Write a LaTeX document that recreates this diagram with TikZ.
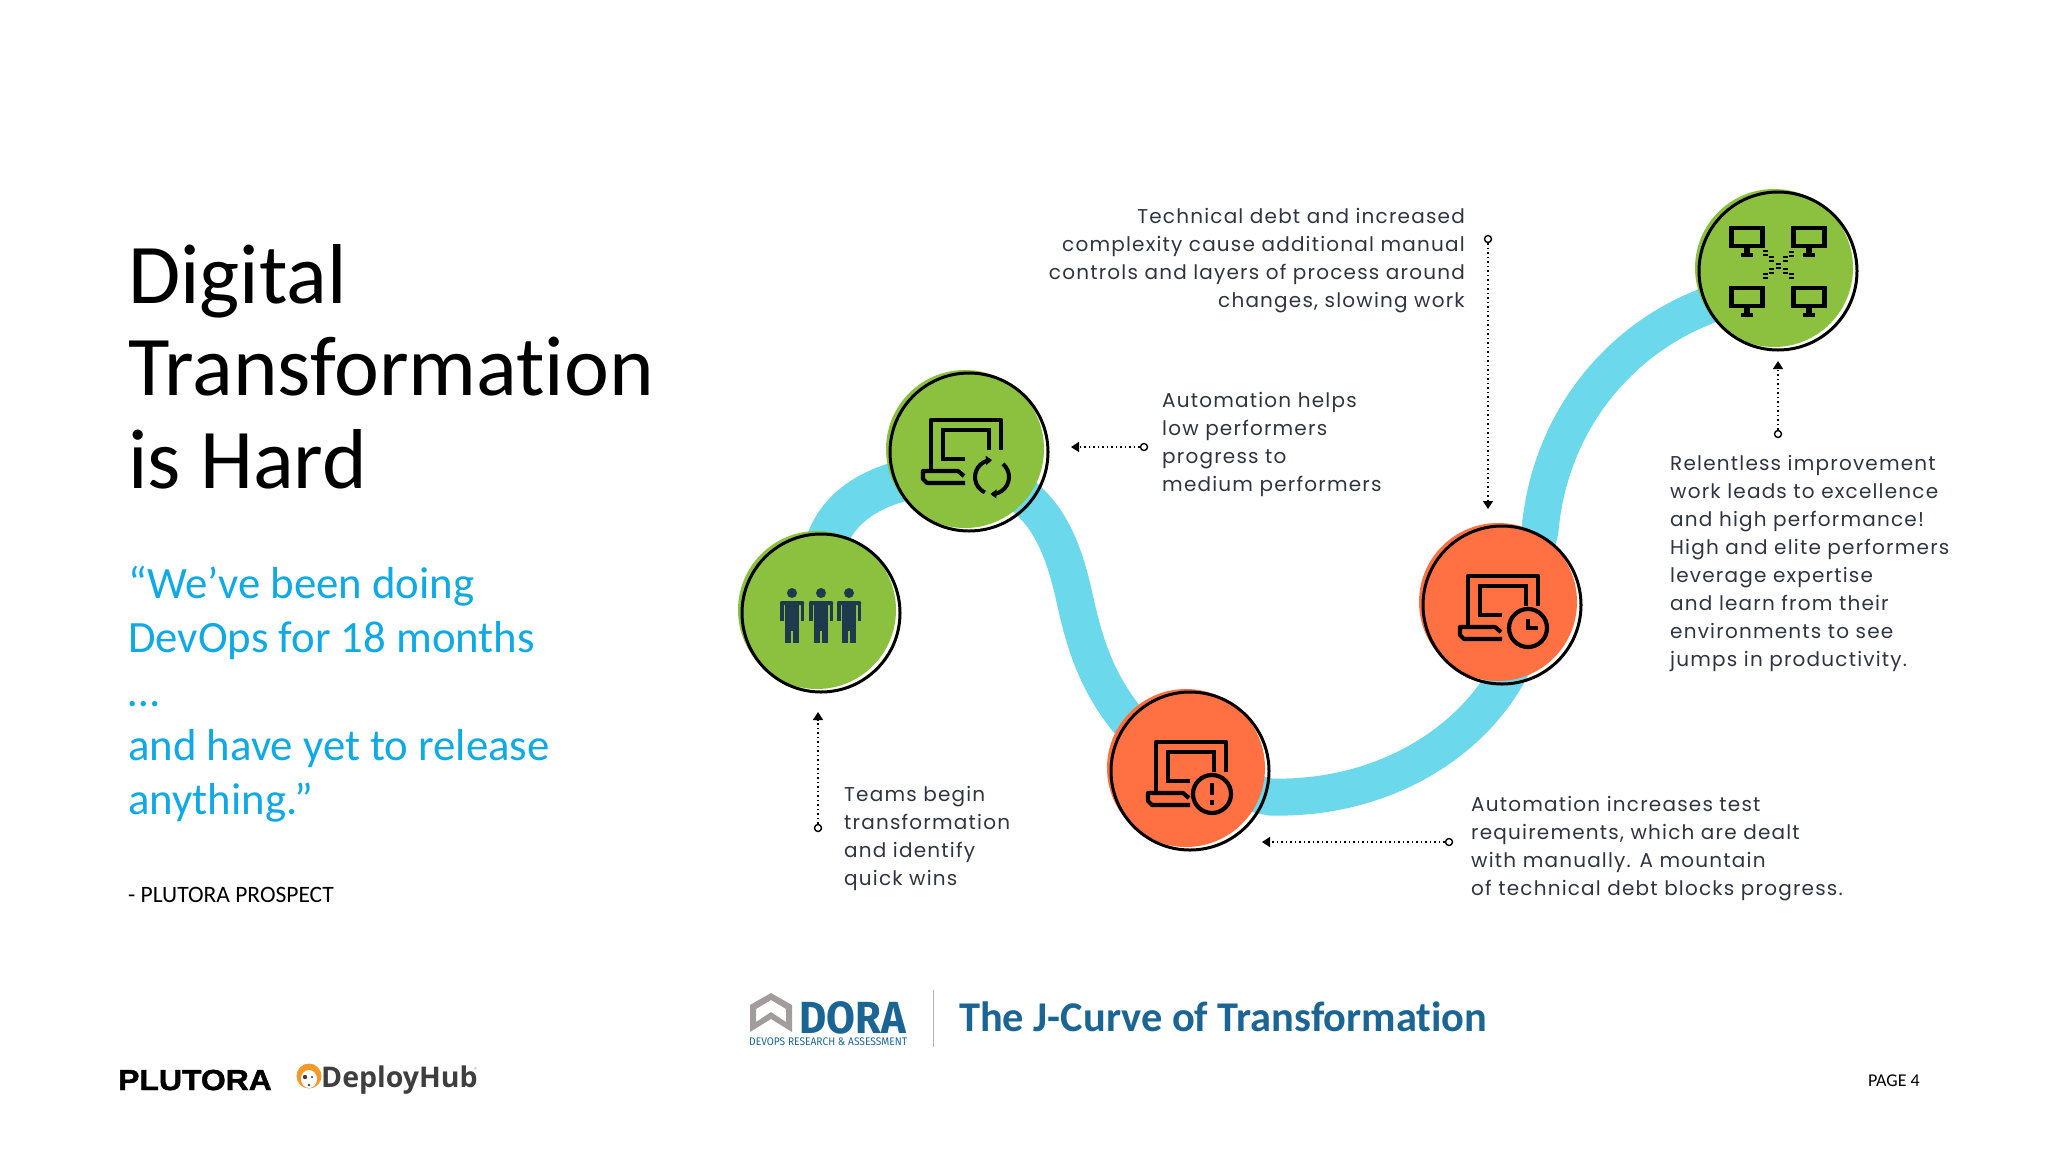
\documentclass[tikz,border=0pt]{standalone}
\usepackage{fontspec}
\usepackage{tikz}
\usetikzlibrary{arrows.meta,backgrounds,positioning}
\setmainfont[Ligatures=NoCommon]{Carlito}
\newfontfamily\bodyfont[LetterSpace=6]{Poppins}
\newfontfamily\plutorafont[FakeBold=1.5,FakeStretch=1.1]{Liberation Sans Bold}
\newfontfamily\hubfont{Open Sans}
\newfontfamily\dorafont[FakeStretch=0.93]{Fira Sans}
\definecolor{jgreen}{HTML}{8CC13F}
\definecolor{jorange}{HTML}{FF7043}
\definecolor{jribbon}{HTML}{6BD8EC}
\definecolor{jbody}{HTML}{2E3440}
\definecolor{jquote}{HTML}{0FA9E6}
\definecolor{jnavy}{HTML}{1F3A4D}
\definecolor{jdora}{HTML}{1B6595}
\definecolor{jhouse}{HTML}{A39C9C}
\definecolor{jhub}{HTML}{3E3E3E}
\definecolor{jdog}{HTML}{F39A2B}
\tikzset{
	laptop/.pic={
		\draw[line width=4.2pt, line join=round] (-38,19) -- (-38,-32) -- (32,-32) -- (32,-2);
		\draw[line width=4.2pt] (-26,7) -- (-26,-22) -- (20,-22) -- (20,-2);
		\draw[line width=4.2pt] (-28.1,7) -- (-4,7);
		\draw[line width=4.2pt, line join=round] (-4,31) -- (-42,31) -- (-46,27) -- (-46,19) -- (-11,19) -- (-5,24);
	},
	person/.pic={
		\fill[jnavy] (0,-20) circle[radius=5];
		\fill[jnavy, rounded corners=1pt] (-12,-12) rectangle (12,-8);
		\fill[jnavy] (-7,-12) rectangle (7,18);
		\fill[jnavy] (-7,17) rectangle (-1,30);
		\fill[jnavy] (1,17) rectangle (7,30);
		\fill[jnavy] (-12,-10) rectangle (-8.5,8);
		\fill[jnavy] (8.5,-10) rectangle (12,8);
	},
	monitor/.pic={
		\draw[line width=4.5pt] (-15.5,-9) rectangle (15.5,9);
		\fill (-3.3,11) rectangle (3.3,16);
		\fill (-6,15.5) rectangle (6,20);
	}
}
\begin{document}
\begin{tikzpicture}[x=1pt,y=-1pt]
	\tikzstyle{disk}=[circle, inner sep=0pt, minimum size=158pt]
	\tikzstyle{ring}=[circle, draw, line width=3pt, inner sep=0pt, minimum size=158pt]
	\tikzstyle{note}=[anchor=base west, inner sep=0pt, align=left, text=jbody, font=\bodyfont\fontsize{20}{28}\selectfont]
	\tikzstyle{pin}=[circle, draw=black, line width=1.4pt, fill=white, inner sep=0pt, minimum size=7pt]
	\tikzstyle{leader}=[line width=1.3pt, dash pattern=on 1.5pt off 3pt, -{Triangle[length=8pt,width=10pt]}]
	\tikzstyle{flat}=[anchor=base west, inner sep=0pt, align=left]
	\path[use as bounding box] (0,0) rectangle (2048,1152);

	\node[flat, font=\fontsize{85}{92.5}\selectfont] (title) at (128,488) {Digital\\Transformation\\is Hard};
	\node[flat, text=jquote, font=\fontsize{44.8}{54}\selectfont] (quote) at (128,814) {“We’ve been doing\\DevOps for 18 months\\…\\and have yet to release\\anything.”};
	\node[flat, font=\fontsize{23.5}{26}\selectfont] (source) at (128,902) {- PLUTORA PROSPECT};

	\node[disk, fill=jgreen] (onefill) at (817,610) {};
	\node[disk, fill=jgreen] (twofill) at (965,449) {};
	\node[disk, fill=jorange] (threefill) at (1186,768) {};
	\node[disk, fill=jorange] (fourfill) at (1498,602) {};
	\node[disk, fill=jgreen] (fivefill) at (1774,268) {};
	\node[ring] (one) at (821,613) {};
	\node[ring] (two) at (969,452) {};
	\node[ring] (three) at (1190,771) {};
	\node[ring] (four) at (1502,605) {};
	\node[ring] (five) at (1778,271) {};

	\begin{scope}[on background layer]
		\draw[jribbon, line width=41pt] (one.center) -- (822,560) .. controls (828,518) and (858,492) .. (905,480) -- (two.center);
		\draw[jribbon, line width=37pt] (two.center) -- (960,472) .. controls (1040,480) and (1062,540) .. (1075,600) .. controls (1088,660) and (1105,700) .. (1150,745) -- (1190,780) -- (1270,797) .. controls (1380,800) and (1470,745) .. (1510,670) -- (1540,530) .. controls (1550,420) and (1620,340) .. (1704,307) -- (five.center);
	\end{scope}

	\pic at (one.center) {person};
	\pic at ([xshift=-29pt]one.center) {person};
	\pic at ([xshift=28pt]one.center) {person};

	\pic at (two.center) {laptop};
	\begin{scope}[shift={(two.center)}, line width=4pt]
		\draw[-{Triangle[length=6pt,width=9pt]}] plot[smooth, domain=115:270, samples=12] ({23+17*cos(\x)},{25+17*sin(\x)});
		\draw[-{Triangle[length=6pt,width=9pt]}] plot[smooth, domain=-50:95, samples=12] ({23+17*cos(\x)},{25+17*sin(\x)});
	\end{scope}

	\pic at ([xshift=4pt,yshift=-3pt]three.center) {laptop};
	\begin{scope}[shift={(three.center)}, line width=4.2pt]
		\draw (22,23) circle[radius=19];
		\draw (22,12) -- (22,24);
		\fill (19.8,29) rectangle (24.2,34);
	\end{scope}

	\pic at ([xshift=4pt,yshift=-3pt]four.center) {laptop};
	\begin{scope}[shift={(four.center)}, line width=4.2pt]
		\draw (26,23) circle[radius=19];
		\draw (26,14) -- (26,23) -- (36,23);
	\end{scope}

	\pic at ([xshift=-31pt,yshift=34pt]five.center) {monitor};
	\pic at ([xshift=31pt,yshift=34pt]five.center) {monitor};
	\pic at ([xshift=-31pt,yshift=-26pt]five.center) {monitor};
	\pic at ([xshift=31pt,yshift=-26pt]five.center) {monitor};
	\begin{scope}[shift={(five.center)}, line width=1.3pt]
		\foreach \dx/\dy in {-13/-18, -7/-12, 0/-5, 7/-12, 13/-17, -13/5, -7/0, 7/0, 13/5}
			\draw (\dx-2.5,\dy-2) -- (\dx+2.5,\dy-2) (\dx-2.5,\dy+2) -- (\dx+2.5,\dy+2);
	\end{scope}

	\node[note, align=right, anchor=base east] (debt) at (1465,307) {Technical debt and increased\\complexity cause additional manual\\controls and layers of process around\\changes, slowing work};
	\node[note] (helps) at (1162,491) {Automation helps\\low performers\\progress to\\medium performers};
	\node[note] (relentless) at (1670,666) {Relentless improvement\\work leads to excellence\\and high performance!\\High and elite performers\\leverage expertise\\and learn from their\\environments to see\\jumps in productivity.};
	\node[note] (teams) at (844,885) {Teams begin\\transformation\\and identify\\quick wins};
	\node[note] (tests) at (1471,895) {Automation increases test\\requirements, which are dealt\\with manually. A mountain\\of technical debt blocks progress.};

	\node[pin] (pindebt) at (1488,239) {};
	\node[pin] (pinhelps) at (1144,447) {};
	\node[pin] (pinteams) at (818,828) {};
	\node[pin] (pinfive) at (1778,434) {};
	\node[pin] (pintests) at (1449,842) {};
	\coordinate (tipdebt) at (1488,509);
	\coordinate (tiphelps) at (1071,447);
	\coordinate (tipteams) at (818,712);
	\coordinate (tipfive) at (1778,361);
	\coordinate (tiptests) at (1262,842);
	\draw[leader] (pindebt) -- (tipdebt);
	\draw[leader] (pinhelps) -- (tiphelps);
	\draw[leader] (pinteams) -- (tipteams);
	\draw[leader] (pinfive) -- (tipfive);
	\draw[leader] (pintests) -- (tiptests);

	\fill[jhouse, even odd rule] (771,993) -- (750,1005) -- (750,1032) -- (771,1019) -- (792,1032) -- (792,1005) -- cycle (771,1000) -- (756,1009) -- (756,1022) -- (771,1012) -- (786,1022) -- (786,1009) -- cycle;
	\node[flat, text=jdora, font=\dorafont\bfseries\fontsize{45}{50}\selectfont] (dora) at (799,1033) {DORA};
	\node[flat, text=jdora, font=\dorafont\fontsize{11}{12}\selectfont] (doratag) at (749,1045) {DEVOPS RESEARCH \& ASSESSMENT};
	\draw[gray!60, line width=1pt] (933,990) -- (933,1047);
	\node[flat, text=jdora, font=\bfseries\fontsize{42.4}{48}\selectfont] (jcurve) at (959,1031) {The J-Curve of Transformation};

	\node[flat, font=\plutorafont\fontsize{29}{32}\selectfont] (plutora) at (118,1090) {PLUTORA};
	\node[flat, text=gray, font=\fontsize{7}{8}\selectfont] (plutorar) at (268,1090) {®};
	\fill[jdog] (309,1076) circle[radius=12.5];
	\fill[white] (309,1079) ellipse[x radius=8, y radius=9];
	\fill[jhub] (305,1077) circle[radius=2.2];
	\fill[jhub] (312,1077) circle[radius=1.2];
	\fill[jhub] (309,1085) circle[radius=1.3];
	\node[flat, text=jhub, font=\hubfont\bfseries\fontsize{28.5}{30}\selectfont] (hub) at (321,1087) {DeployHub};
	\node[flat, text=gray, font=\fontsize{7}{8}\selectfont] (hubr) at (474,1072) {®};
	\node[flat, font=\fontsize{18}{20}\selectfont] (page) at (1868,1086) {PAGE 4};
\end{tikzpicture}
\end{document}
